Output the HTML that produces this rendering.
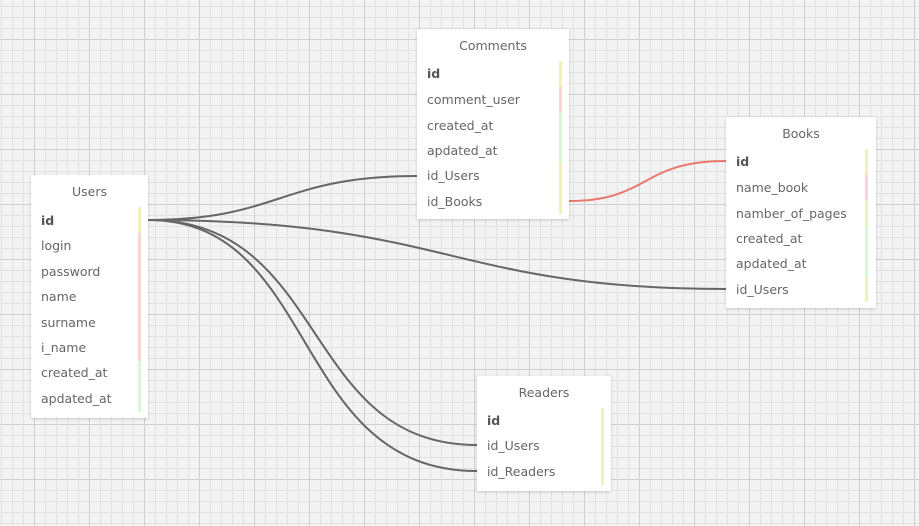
<!DOCTYPE html>
<html><head><meta charset="utf-8">
<style>
html,body{margin:0;padding:0}
body{width:919px;height:526px;overflow:hidden;position:relative;
background-color:#f3f3f3;
background-image:
linear-gradient(to right,#cfcfcf 1px,transparent 1px),
linear-gradient(to bottom,#cfcfcf 1px,transparent 1px),
linear-gradient(to right,#e2e2e2 1px,transparent 1px),
linear-gradient(to bottom,#e2e2e2 1px,transparent 1px);
background-size:55px 55px,55px 55px,11px 11px,11px 11px;
background-position:34px 0,0 39px,1px 0,0 6px;
font-family:"DejaVu Sans","Liberation Sans",sans-serif;}
.t{position:absolute;background:#fff;box-shadow:0 1px 3px rgba(0,0,0,.18);}
.h{position:absolute;left:0;right:0;text-align:center;font-size:12.5px;color:#666;margin-top:1px}
.r{position:absolute;left:10px;font-size:12.5px;color:#666;line-height:16px;margin-top:1px}
.b{font-weight:bold;color:#555}
.bar{position:absolute;width:3px}
svg{position:absolute;left:0;top:0}
</style></head><body>
<svg width="919" height="526">
<g fill="none" stroke="#666" stroke-width="2">
<path d="M148 220 C280 220 280 176 418 176"/>
<path d="M148 220 C450 220 450 289 726 289"/>
<path d="M148 220 C330 220 300 445 477 445"/>
<path d="M148 220 C320 220 290 471 477 471"/>
</g>
<path d="M569 201 C650 201 640 161 726 161" fill="none" stroke="#e8776b" stroke-width="2"/>
</svg>

<div class="t" style="left:31px;top:175px;width:117px;height:243px">
<div class="h" style="top:8px">Users</div>
<div class="bar" style="left:107px;top:32px;height:26px;background:#f3f0c0"></div>
<div class="bar" style="left:107px;top:58px;height:128px;background:#fad4d4"></div>
<div class="bar" style="left:107px;top:186px;height:51px;background:#d8f7d4"></div>
<div class="r b" style="top:37px">id</div>
<div class="r" style="top:62px">login</div>
<div class="r" style="top:88px">password</div>
<div class="r" style="top:113px">name</div>
<div class="r" style="top:139px">surname</div>
<div class="r" style="top:164px">i_name</div>
<div class="r" style="top:189px">created_at</div>
<div class="r" style="top:215px">apdated_at</div>
</div>

<div class="t" style="left:417px;top:29px;width:152px;height:190px">
<div class="h" style="top:8px">Comments</div>
<div class="bar" style="left:142px;top:32px;height:26px;background:#f3f0c0"></div>
<div class="bar" style="left:142px;top:58px;height:25px;background:#fad4d4"></div>
<div class="bar" style="left:142px;top:83px;height:51px;background:#d8f7d4"></div>
<div class="bar" style="left:142px;top:134px;height:51px;background:#f3f0c0"></div>
<div class="r b" style="top:36px">id</div>
<div class="r" style="top:62px">comment_user</div>
<div class="r" style="top:88px">created_at</div>
<div class="r" style="top:113px">apdated_at</div>
<div class="r" style="top:138px">id_Users</div>
<div class="r" style="top:164px">id_Books</div>
</div>

<div class="t" style="left:726px;top:117px;width:150px;height:191px">
<div class="h" style="top:8px">Books</div>
<div class="bar" style="left:139px;top:32px;height:26px;background:#f3f0c0"></div>
<div class="bar" style="left:139px;top:58px;height:25px;background:#fad4d4"></div>
<div class="bar" style="left:139px;top:83px;height:26px;background:#f3f0c0"></div>
<div class="bar" style="left:139px;top:109px;height:51px;background:#d8f7d4"></div>
<div class="bar" style="left:139px;top:160px;height:25px;background:#f3f0c0"></div>
<div class="r b" style="top:36px">id</div>
<div class="r" style="top:62px">name_book</div>
<div class="r" style="top:88px">namber_of_pages</div>
<div class="r" style="top:113px">created_at</div>
<div class="r" style="top:138px">apdated_at</div>
<div class="r" style="top:164px">id_Users</div>
</div>

<div class="t" style="left:477px;top:376px;width:134px;height:115px">
<div class="h" style="top:8px">Readers</div>
<div class="bar" style="left:124px;top:32px;height:77px;background:#f3f0c0"></div>
<div class="r b" style="top:36px">id</div>
<div class="r" style="top:61px">id_Users</div>
<div class="r" style="top:87px">id_Readers</div>
</div>
</body></html>
